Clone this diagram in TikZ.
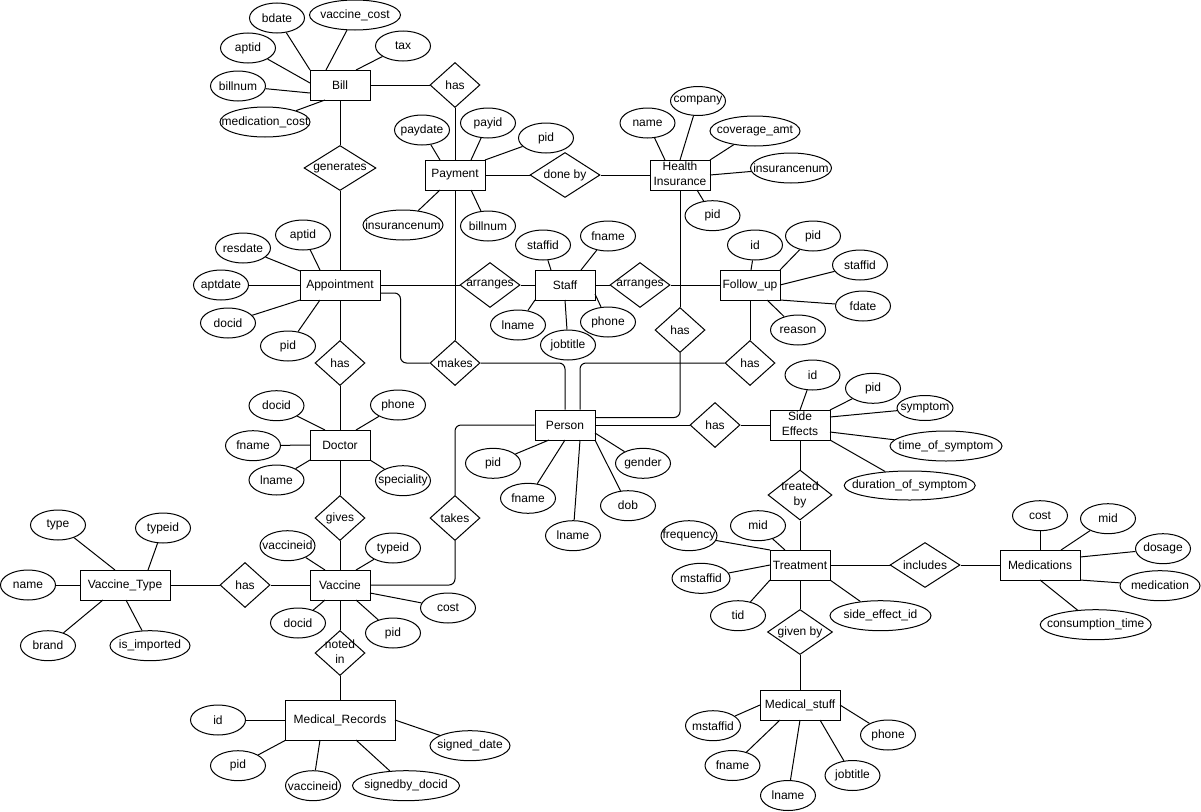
\documentclass[tikz,border=0pt]{standalone}
\usepackage{fontspec}
\setmainfont{Liberation Sans}
\usetikzlibrary{shapes.geometric}
\newcommand{\zw}[1]{\makebox[0pt]{#1}}
\newcommand{\tl}[2]{\makebox[0pt]{\begin{tabular}{@{}c@{}}#1\\#2\end{tabular}}}
\begin{document}
\begin{tikzpicture}[x=1pt,y=-1pt, line width=1pt, font=\fontsize{12}{14.4}\selectfont,
 ent/.style={draw, rectangle, minimum width=60, minimum height=30, inner sep=0},
 rel/.style={draw, diamond, minimum width=50, minimum height=45, inner sep=0},
 att/.style={draw, ellipse, minimum width=55, minimum height=30, inner sep=0},
 elbow/.style={rounded corners=6}]
\useasboundingbox (0,0) rectangle (1201,811);
\fill[white] (0,0) rectangle (1201,811);
% entities
\node[ent] (bill) at (340,85) {\zw{Bill}};
\node[ent] (pay) at (455,175) {\zw{Payment}};
\node[ent] (hi) at (680,175) {\tl{Health}{Insurance}};
\node[ent, minimum width=80] (appt) at (340,285) {\zw{Appointment}};
\node[ent] (staff) at (565,285) {\zw{Staff}};
\node[ent] (fu) at (750,285) {\zw{Follow\_up}};
\node[ent] (person) at (565,425) {\zw{Person}};
\node[ent] (se) at (800,425) {\tl{Side}{Effects}};
\node[ent] (doc) at (340,445) {\zw{Doctor}};
\node[ent] (vac) at (340,585) {\zw{Vaccine}};
\node[ent, minimum width=90] (vt) at (125,585) {\zw{Vaccine\_Type}};
\node[ent, minimum width=110, minimum height=40] (mr) at (340,720) {\zw{Medical\_Records}};
\node[ent] (treat) at (800,565) {\zw{Treatment}};
\node[ent, minimum width=80] (meds) at (1040,565) {\zw{Medications}};
\node[ent, minimum width=80] (ms) at (800,705) {\zw{Medical\_stuff}};
% relationships
\node[rel] (hasbill) at (455,85) {\zw{has}};
\node[rel, minimum width=72] (gen) at (340,168) {\zw{generates}};
\node[rel, minimum width=70] (doneby) at (565,175) {\zw{done by}};
\node[rel, minimum width=60] (arr1) at (490,285) {\zw{arranges}};
\node[rel, minimum width=60] (arr2) at (640,285) {\zw{arranges}};
\node[rel] (makes) at (455,363) {\zw{makes}};
\node[rel] (hashi) at (680,330) {\zw{has}};
\node[rel] (hasfu) at (750,363) {\zw{has}};
\node[rel] (hasse) at (715,425) {\zw{has}};
\node[rel] (hasdoc) at (340,363) {\zw{has}};
\node[rel] (gives) at (340,518) {\zw{gives}};
\node[rel] (takes) at (455,518) {\zw{takes}};
\node[rel] (hasvt) at (245,585) {\zw{has}};
\node[rel] (noted) at (340,653) {\tl{noted}{in}};
\node[rel, minimum width=64, minimum height=50] (treated) at (800,495) {\tl{treated}{by}};
\node[rel, minimum width=70] (includes) at (925,565) {\zw{includes}};
\node[rel, minimum width=65] (givenby) at (800,632) {\zw{given by}};
% relationship connectors
\draw (bill) -- (hasbill);
\draw (hasbill) -- (pay);
\draw (bill) -- (gen);
\draw (gen) -- (appt);
\draw (pay) -- (doneby);
\draw (doneby) -- (hi);
\draw (hi) -- (hashi);
\draw[elbow] (hashi.south) |- ([shift={(0,-7.5)}]person.east);
\draw (pay) -- (makes);
\draw (appt) -- (arr1);
\draw (arr1) -- (staff);
\draw (staff) -- (arr2);
\draw (arr2) -- (fu);
\draw[elbow] ([shift={(0,8)}]appt.east) -- ++(20,0) |- (makes.west);
\draw[elbow] (makes.east) -| (person.north);
\draw (fu) -- (hasfu);
\draw[elbow] (hasfu.west) -| ([xshift=15]person.north);
\draw (appt) -- (hasdoc);
\draw (hasdoc) -- (doc);
\draw (doc) -- (gives);
\draw (gives) -- (vac);
\draw[elbow] (vac.east) -| (takes.south);
\draw[elbow] (takes.north) |- (person.west);
\draw (vt) -- (hasvt);
\draw (hasvt) -- (vac);
\draw (vac) -- (noted);
\draw (noted) -- (mr);
\draw (person) -- (hasse);
\draw (hasse) -- (se);
\draw (se) -- (treated);
\draw (treated) -- (treat);
\draw (treat) -- (givenby);
\draw (givenby) -- (ms);
\draw (treat) -- (includes);
\draw (includes) -- (meds);
% Bill attributes
\node[att] (bdate) at (277,18) {\zw{bdate}};
\node[att, minimum width=91] (vcost) at (355,15) {\zw{vaccine\_cost}};
\node[att] (tax) at (403,46) {\zw{tax}};
\node[att] (aptidb) at (248,48) {\zw{aptid}};
\node[att] (billnumb) at (238,86) {\zw{billnum}};
\node[att, minimum width=90] (medcost) at (265,122) {\zw{medication\_cost}};
\draw (bdate) -- ([shift={(-30,-15)}]bill.center);
\draw (vcost) -- ([shift={(-14,-15)}]bill.center);
\draw (tax) -- ([shift={(16,-15)}]bill.center);
\draw (aptidb) -- ([shift={(-30,-2)}]bill.center);
\draw (billnumb) -- ([shift={(-30,8)}]bill.center);
\draw (medcost) -- ([shift={(-15,15)}]bill.center);
% Payment attributes
\node[att] (paydate) at (422,130) {\zw{paydate}};
\node[att] (payid) at (488,123) {\zw{payid}};
\node[att] (pidp) at (546,138) {\zw{pid}};
\node[att, minimum width=80] (insnump) at (403,225) {\zw{insurancenum}};
\node[att] (billnump) at (488,226) {\zw{billnum}};
\draw (paydate) -- ([shift={(-15,-15)}]pay.center);
\draw (payid) -- ([shift={(16,-15)}]pay.center);
\draw (pidp) -- ([shift={(30,-15)}]pay.center);
\draw (insnump) -- ([shift={(-15,15)}]pay.center);
\draw (billnump) -- ([shift={(16,15)}]pay.center);
% Health Insurance attributes
\node[att] (hname) at (647.5,123) {\zw{name}};
\node[att, minimum height=29] (company) at (698,101) {\zw{company}};
\node[att, minimum width=90] (coverage) at (755,131) {\zw{coverage\_amt}};
\node[att, minimum width=81] (insnumh) at (791,168) {\zw{insurancenum}};
\node[att] (pidh) at (712.5,215.7) {\zw{pid}};
\draw (hname) -- ([shift={(-15,-15)}]hi.center);
\draw (company) -- ([shift={(0,-15)}]hi.center);
\draw (coverage) -- ([shift={(30,-15)}]hi.center);
\draw (insnumh) -- ([shift={(30,0)}]hi.center);
\draw (pidh) -- ([shift={(17,15)}]hi.center);
% Appointment attributes
\node[att] (aptida) at (303,235) {\zw{aptid}};
\node[att] (resdate) at (243,248) {\zw{resdate}};
\node[att] (aptdate) at (221,285) {\zw{aptdate}};
\node[att] (docida) at (228,323) {\zw{docid}};
\node[att] (pida) at (288,346) {\zw{pid}};
\draw (aptida) -- ([shift={(-20,-15)}]appt.center);
\draw (resdate) -- ([shift={(-40,-14)}]appt.center);
\draw (aptdate) -- ([shift={(-40,0)}]appt.center);
\draw (docida) -- ([shift={(-40,15)}]appt.center);
\draw (pida) -- ([shift={(-20,15)}]appt.center);
% Staff attributes
\node[att] (staffid) at (543,245) {\zw{staffid}};
\node[att] (fnames) at (608,236) {\zw{fname}};
\node[att] (lnames) at (518,325) {\zw{lname}};
\node[att] (jobtitles) at (568,345) {\zw{jobtitle}};
\node[att] (phones) at (608,322) {\zw{phone}};
\draw (staffid) -- ([shift={(-14,-15)}]staff.center);
\draw (fnames) -- ([shift={(16,-15)}]staff.center);
\draw (lnames) -- ([shift={(-30,15)}]staff.center);
\draw (jobtitles) -- ([shift={(0,15)}]staff.center);
\draw (phones) -- ([shift={(30,9)}]staff.center);
% Follow_up attributes
\node[att] (idf) at (755,245) {\zw{id}};
\node[att] (pidf) at (813,236) {\zw{pid}};
\node[att] (staffidf) at (860,265) {\zw{staffid}};
\node[att] (fdate) at (863,306) {\zw{fdate}};
\node[att] (reason) at (798,330) {\zw{reason}};
\draw (idf) -- ([shift={(1,-15)}]fu.center);
\draw (pidf) -- ([shift={(30,-15)}]fu.center);
\draw (staffidf) -- ([shift={(30,0)}]fu.center);
\draw (fdate) -- ([shift={(30,15)}]fu.center);
\draw (reason) -- ([shift={(17,15)}]fu.center);
% Doctor attributes
\node[att] (docidd) at (276.5,405.7) {\zw{docid}};
\node[att] (phoned) at (398,405) {\zw{phone}};
\node[att] (fnamed) at (253,445.7) {\zw{fname}};
\node[att] (lnamed) at (276.5,480) {\zw{lname}};
\node[att] (speciality) at (403,480.7) {\zw{speciality}};
\draw (docidd) -- ([shift={(-15,-15)}]doc.center);
\draw (phoned) -- ([shift={(16,-15)}]doc.center);
\draw (fnamed) -- ([shift={(-30,0)}]doc.center);
\draw (lnamed) -- ([shift={(-30,15)}]doc.center);
\draw (speciality) -- ([shift={(30,15)}]doc.center);
% Vaccine attributes
\node[att] (vaccineid) at (287.5,545.7) {\zw{vaccineid}};
\node[att] (typeidv) at (393,548) {\zw{typeid}};
\node[att] (costv) at (448,608) {\zw{cost}};
\node[att] (pidv) at (393,633) {\zw{pid}};
\node[att] (docidv) at (298,623) {\zw{docid}};
\draw (vaccineid) -- ([shift={(-15,-15)}]vac.center);
\draw (typeidv) -- ([shift={(16,-15)}]vac.center);
\draw (costv) -- ([shift={(30,8)}]vac.center);
\draw (pidv) -- ([shift={(16,15)}]vac.center);
\draw (docidv) -- ([shift={(-15,15)}]vac.center);
% Vaccine_Type attributes
\node[att] (type) at (58,525) {\zw{type}};
\node[att] (typeidt) at (163,528) {\zw{typeid}};
\node[att] (namet) at (28,585) {\zw{name}};
\node[att] (brand) at (48,645.7) {\zw{brand}};
\node[att, minimum width=80] (isimp) at (150,645.7) {\zw{is\_imported}};
\draw (type) -- ([shift={(-10,-15)}]vt.center);
\draw (typeidt) -- ([shift={(23,-15)}]vt.center);
\draw (namet) -- ([shift={(-45,0)}]vt.center);
\draw (brand) -- ([shift={(-22,15)}]vt.center);
\draw (isimp) -- ([shift={(1,15)}]vt.center);
% Medical_Records attributes
\node[att] (idm) at (218,720) {\zw{id}};
\node[att] (pidm) at (238,765.7) {\zw{pid}};
\node[att] (vaccineidm) at (313,785.7) {\zw{vaccineid}};
\node[att, minimum width=107] (signedby) at (406,785.7) {\zw{signedby\_docid}};
\node[att, minimum width=80] (signeddate) at (470,745.7) {\zw{signed\_date}};
\draw (idm) -- ([shift={(-55,0)}]mr.center);
\draw (pidm) -- ([shift={(-54,20)}]mr.center);
\draw (vaccineidm) -- ([shift={(-20,20)}]mr.center);
\draw (signedby) -- ([shift={(16,20)}]mr.center);
\draw (signeddate) -- ([shift={(55,0)}]mr.center);
% Person attributes
\node[att] (pidper) at (493,463.3) {\zw{pid}};
\node[att] (fnameper) at (528,498.3) {\zw{fname}};
\node[att] (lnameper) at (573,535.7) {\zw{lname}};
\node[att] (dob) at (628,505.7) {\zw{dob}};
\node[att] (gender) at (643,463.3) {\zw{gender}};
\draw (pidper) -- ([shift={(-16,15)}]person.center);
\draw (fnameper) -- ([shift={(0,15)}]person.center);
\draw (lnameper) -- ([shift={(15,15)}]person.center);
\draw (dob) -- ([shift={(30,15)}]person.center);
\draw (gender) -- ([shift={(30,8)}]person.center);
% Side Effects attributes
\node[att] (idse) at (812.5,375) {\zw{id}};
\node[att] (pidse) at (873,388.3) {\zw{pid}};
\node[att, minimum width=56, minimum height=25] (symptom) at (925,408) {\zw{symptom}};
\node[att, minimum width=112] (timesym) at (946,446) {\zw{time\_of\_symptom}};
\node[att, minimum width=131, minimum height=29] (dursym) at (909.7,485.5) {\zw{duration\_of\_symptom}};
\draw (idse) -- ([shift={(0,-15)}]se.center);
\draw (pidse) -- ([shift={(30,-15)}]se.center);
\draw (symptom) -- ([shift={(30,-8)}]se.center);
\draw (timesym) -- ([shift={(30,7)}]se.center);
\draw (dursym) -- ([shift={(30,15)}]se.center);
% Treatment attributes
\node[att, minimum width=56] (freq) at (689,535.7) {\zw{frequency}};
\node[att] (midt) at (758,525.7) {\zw{mid}};
\node[att, minimum width=58] (mstaffidt) at (701,578.3) {\zw{mstaffid}};
\node[att] (tid) at (738,615.7) {\zw{tid}};
\node[att, minimum width=101] (seid) at (880.5,615.7) {\zw{side\_effect\_id}};
\draw (freq) -- ([shift={(-30,-15)}]treat.center);
\draw (midt) -- ([shift={(-15,-15)}]treat.center);
\draw (mstaffidt) -- ([shift={(-30,0)}]treat.center);
\draw (tid) -- ([shift={(-30,15)}]treat.center);
\draw (seid) -- ([shift={(30,15)}]treat.center);
% Medications attributes
\node[att] (costm) at (1040,515.7) {\zw{cost}};
\node[att] (midm) at (1108,518.7) {\zw{mid}};
\node[att] (dosage) at (1163,548.7) {\zw{dosage}};
\node[att, minimum width=80] (medication) at (1160,585.7) {\zw{medication}};
\node[att, minimum width=111] (consump) at (1095.7,624.7) {\zw{consumption\_time}};
\draw (costm) -- ([shift={(0,-15)}]meds.center);
\draw (midm) -- ([shift={(21,-15)}]meds.center);
\draw (dosage) -- ([shift={(40,-8)}]meds.center);
\draw (medication) -- ([shift={(40,15)}]meds.center);
\draw (consump) -- ([shift={(0,15)}]meds.center);
% Medical_stuff attributes
\node[att] (mstaffidm) at (713,725.7) {\zw{mstaffid}};
\node[att] (fnamem) at (732.5,765.5) {\zw{fname}};
\node[att] (lnamem) at (788,795.5) {\zw{lname}};
\node[att] (jobtitlem) at (852.5,775.5) {\zw{jobtitle}};
\node[att] (phonem) at (888,735) {\zw{phone}};
\draw (mstaffidm) -- ([shift={(-40,0)}]ms.center);
\draw (fnamem) -- ([shift={(-20,15)}]ms.center);
\draw (lnamem) -- ([shift={(0,15)}]ms.center);
\draw (jobtitlem) -- ([shift={(20,15)}]ms.center);
\draw (phonem) -- ([shift={(40,0)}]ms.center);
\end{tikzpicture}
\end{document}
